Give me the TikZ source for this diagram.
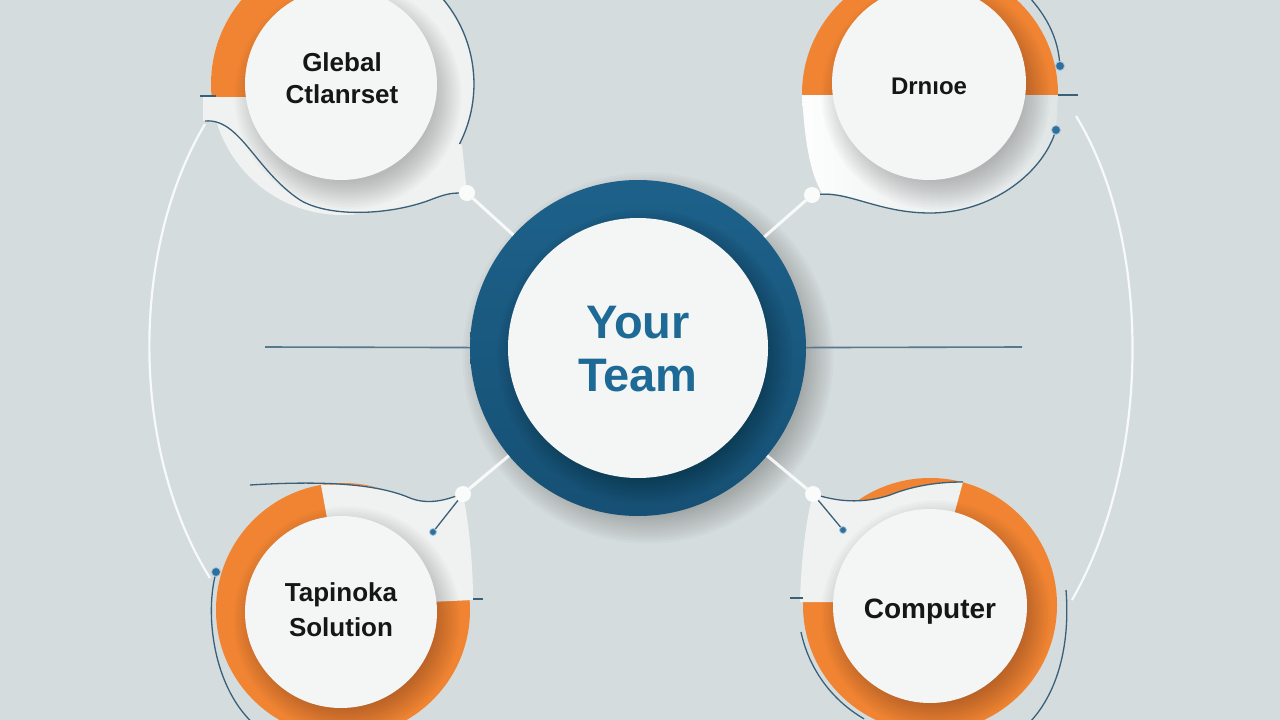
\documentclass[tikz,border=0pt]{standalone}
\usepackage{fontspec}
\setmainfont{Liberation Sans}
\definecolor{bg}{RGB}{213,220,221}
\definecolor{org}{RGB}{240,132,50}
\definecolor{navyl}{RGB}{29,97,138}
\definecolor{navyd}{RGB}{22,80,116}
\definecolor{thinc}{RGB}{58,96,120}
\definecolor{dotb}{RGB}{45,112,158}
\definecolor{discc}{RGB}{244,245,245}
\definecolor{blobc}{RGB}{240,242,242}
\definecolor{teamc}{RGB}{30,106,150}
\definecolor{lblc}{RGB}{22,22,22}
\newcommand{\softshadow}[4]{% x, y, r, opacity
  \foreach \k in {0,...,11}{\fill[black,opacity=#4] (#1,#2) circle[radius={(#3-10+2.5*\k)*1pt}];}}
\tikzset{
  whitedisc/.style={circle, fill=discc, inner sep=0pt, draw=none},
  lbl/.style={text=lblc, align=center, inner sep=0pt},
  wavel/.style={draw=thinc, line width=1.3pt},
  conn/.style={draw=white, line width=3pt, opacity=0.85},
  bigarc/.style={draw=white, line width=2.2pt, opacity=0.85},
  hline/.style={draw=thinc!85!white, line width=1.6pt},
  wdot/.style={circle, fill=white!88!bg, draw=none, minimum size=16pt, inner sep=0pt},
  bdot/.style={circle, fill=dotb, draw=white!60!dotb, line width=0.8pt, minimum size=9pt, inner sep=0pt},
}
\begin{document}
\begin{tikzpicture}[x=1pt,y=-1pt]
\useasboundingbox (0,0) rectangle (1280,720);
\clip (0,0) rectangle (1280,720);
\fill[bg] (0,0) rectangle (1280,720);

% large faint arcs
\draw[bigarc] (205,124) .. controls (130,250) and (130,450) .. (210,578);
\draw[bigarc] (1076,116) .. controls (1152,240) and (1152,460) .. (1072,600);

% ===== top-left =====
\fill[blobc] (342,84) circle[radius=131pt];
\fill[blobc] (203,96) -- (203,121) .. controls (240,118) and (255,170) .. (300,200) .. controls (330,218) and (390,215) .. (430,200) .. controls (445,194) and (455,192) .. (467,193) -- (462,145) -- (342,84) -- cycle;
\begin{scope}
  \clip (100,-50) rectangle (342,96);
  \fill[org] (342,84) circle[radius=131pt];
\end{scope}
\softshadow{348}{96}{96}{0.02}
\node[whitedisc, minimum size=192pt] (TL) at (341,84) {};
\node[lbl, font=\bfseries\fontsize{26}{32}\selectfont] (TLt) at (342,78) {Glebal\\Ctlanrset};
\draw[wavel] (200,96) -- (216,96);
\draw[wavel] (441.6,-2.6) arc[start angle=41,end angle=-27,radius=132pt];
\node[wdot] (dTL) at (467,193) {};
\draw[wavel] (205,121) .. controls (240,118) and (255,170) .. (300,200) .. controls (330,218) and (390,215) .. (430,200) .. controls (445,194) and (452,193) .. (dTL);

% ===== top-right =====
\shade[left color=white!96!bg, right color=bg!75!white] (802,94) -- (1058,94) -- (1056,130) .. controls (1040,175) and (990,213) .. (930,213) .. controls (880,213) and (850,192) .. (822,193) .. controls (808,170) and (804,130) .. (802,94) -- cycle;
\begin{scope}
  \clip (700,-50) rectangle (1100,94);
  \fill[org] (930,94) circle[radius=128pt];
\end{scope}
\softshadow{936}{95}{97}{0.02}
\node[whitedisc, minimum size=194pt] (TR) at (929,83) {};
\node[lbl, font=\bfseries\fontsize{24}{30}\selectfont] (TRt) at (929,86) {Drnıoe};
\draw[wavel] (1058,95) -- (1078,95);
\node[bdot] (b1) at (1060,66) {};
\coordinate (tTR) at (1030,-2);
\draw[wavel] (tTR) .. controls (1045,15) and (1057,35) .. (b1);
\node[bdot] (b2) at (1056,130) {};
\node[wdot] (dTR) at (812,195) {};
\draw[wavel] (b2) .. controls (1040,175) and (990,213) .. (930,213) .. controls (880,213) and (850,192) .. (dTR);

% ===== bottom-left =====
\node[bdot] (b5) at (216,572) {};
\draw[wavel] (b5) .. controls (205,620) and (215,690) .. (255,725);
\fill[org] (343,610) circle[radius=127pt];
\fill[blobc] (343,606) -- (321,485) .. controls (370,482) and (395,492) .. (412,499) .. controls (432,506) and (450,498) .. (463,494) .. controls (470,530) and (473,570) .. (473,600) -- cycle;
\softshadow{347}{620}{96}{0.02}
\node[whitedisc, minimum size=192pt] (BL) at (341,612) {};
\node[lbl, font=\bfseries\fontsize{26}{35}\selectfont] (BLt) at (341,610) {Tapinoka\\Solution};
\draw[wavel] (473,599) -- (483,599);
\node[wdot] (dBL) at (463,494) {};
\draw[wavel] (250,485) .. controls (330,480) and (380,485) .. (410,498) .. controls (430,506) and (450,498) .. (dBL);
\node[bdot, minimum size=7pt] (b3) at (433,532) {};
\draw[wavel] (dBL) -- (b3);

% ===== bottom-right =====
\draw[wavel] (801,632) arc[start angle=192,end angle=240,radius=132pt];
\draw[wavel] (1066,590) .. controls (1070,640) and (1060,690) .. (1030,722);
\fill[org] (930,605) circle[radius=127pt];
\fill[blobc] (930,602) -- (800,602) .. controls (801,560) and (806,520) .. (813,494) .. controls (835,500) and (860,505) .. (890,495) .. controls (915,485) and (940,482) .. (963,482) -- cycle;
\softshadow{936}{615}{97}{0.02}
\node[whitedisc, minimum size=194pt] (BR) at (930,606) {};
\node[lbl, font=\bfseries\fontsize{28}{34}\selectfont] (BRt) at (930,612) {Computer};
\draw[wavel] (790,598) -- (803,598);
\node[wdot] (dBR) at (813,494) {};
\draw[wavel] (dBR) .. controls (835,500) and (860,505) .. (890,495) .. controls (915,485) and (940,482) .. (963,482);
\node[bdot, minimum size=7pt] (b4) at (843,530) {};
\draw[wavel] (dBR) -- (b4);

% ===== centre =====
\softshadow{648}{358}{168}{0.018}
\node[circle, minimum size=336pt, inner sep=0pt, top color=navyl, bottom color=navyd] (ring) at (638,348) {};
\softshadow{645}{357}{130}{0.025}
\node[whitedisc, minimum size=260pt] (core) at (638,348) {};
\node[lbl, text=teamc, font=\bfseries\fontsize{47}{53}\selectfont] (team) at (638,349) {Your\\Team};

% horizontal lines
\coordinate (hl) at (265,347);
\coordinate (hr) at (1022,347);
\draw[hline] (hl) -- (ring);
\draw[hline] (ring) -- (hr);

% connectors
\draw[conn] (dTL) -- (ring);
\draw[conn] (dTR) -- (ring);
\draw[conn] (dBL) -- (ring);
\draw[conn] (dBR) -- (ring);
\end{tikzpicture}
\end{document}
